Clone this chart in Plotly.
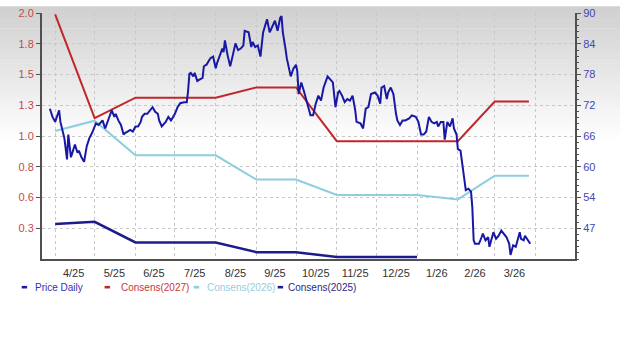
import plotly.graph_objects as go
import pandas as pd

# ---------------- data ----------------
base_date = "2025-04-01"
price_day_offsets = [-4, -2, 0, 1, 3, 4, 6, 7, 9, 10, 12, 13, 15, 17, 18, 20, 22, 24, 26, 28, 29, 31, 33, 36, 38, 40,
                     42, 43, 45, 46, 48, 50, 52, 53, 55, 57, 59, 61, 63, 65, 66, 68, 70, 72, 74, 76, 78, 79, 81, 83,
                     84, 86, 88, 89, 91, 93, 95, 98, 100, 101, 102, 103, 105, 106, 108, 110, 112, 113, 115, 117, 118,
                     120, 122, 123, 125, 127, 128, 129, 131, 133, 135, 137, 139, 141, 143, 144, 147, 149, 150, 152,
                     154, 156, 158, 160, 161, 163, 165, 167, 169, 171, 172, 173, 175, 176, 179, 181, 183, 184, 185,
                     187, 189, 191, 194, 196, 198, 200, 202, 204, 207, 209, 211, 213, 215, 216, 218, 220, 222, 224,
                     226, 228, 229, 232, 234, 236, 238, 240, 243, 245, 247, 248, 250, 252, 253, 255, 257, 259, 260,
                     262, 264, 266, 269, 271, 274, 276, 278, 280, 282, 284, 286, 288, 290, 291, 293, 295, 296, 298,
                     300, 302, 303, 305, 306, 308, 310, 311, 312, 314, 316, 317, 318, 319, 322, 324, 325, 327, 329,
                     330, 332, 333, 335, 337, 339, 341, 343, 345, 346, 348, 350, 352, 353, 354, 356, 357, 359, 361]
price_daily = [71.1, 69.5, 68.5, 69.2, 70.8, 68.5, 66.6, 65.3, 61.1, 66.0, 61.5, 62.4, 64.0, 62.4, 62.8, 61.5, 60.6,
               63.7, 65.3, 66.3, 66.9, 68.2, 67.9, 68.8, 67.2, 68.8, 70.1, 70.8, 69.5, 70.1, 68.8, 67.9, 66.0, 66.3,
               66.6, 66.9, 66.6, 67.6, 67.6, 68.5, 69.5, 70.1, 70.1, 70.8, 71.4, 70.5, 70.1, 68.8, 67.6, 68.2, 68.5,
               69.5, 68.8, 69.2, 70.1, 71.4, 72.2, 72.4, 72.4, 74.6, 78.0, 78.2, 77.5, 78.2, 76.6, 76.9, 77.2, 79.5,
               79.8, 80.7, 81.1, 81.4, 79.1, 80.1, 81.7, 83.0, 82.3, 84.6, 81.7, 79.5, 81.7, 84.0, 82.7, 83.0, 83.6,
               86.5, 86.2, 83.3, 84.3, 83.3, 83.6, 81.4, 86.2, 87.8, 88.8, 86.2, 87.5, 88.5, 86.5, 89.1, 89.4, 86.2,
               83.0, 81.1, 77.5, 79.0, 79.8, 78.5, 74.0, 76.3, 74.6, 72.7, 69.8, 69.8, 72.1, 73.7, 72.7, 75.3, 77.5,
               76.9, 76.3, 71.4, 74.3, 74.6, 73.7, 72.4, 73.0, 72.7, 73.7, 70.8, 68.5, 68.2, 67.2, 71.1, 71.4, 74.0,
               74.3, 73.7, 72.1, 75.3, 75.6, 73.0, 74.3, 75.3, 74.0, 70.1, 68.8, 67.9, 68.8, 68.8, 69.2, 69.8, 69.5,
               68.5, 66.0, 66.0, 66.6, 69.5, 68.5, 68.2, 68.5, 67.6, 68.5, 68.5, 65.0, 68.5, 67.6, 69.2, 67.2, 66.0,
               63.1, 62.8, 59.2, 56.6, 55.0, 55.3, 54.7, 51.5, 45.1, 44.4, 44.4, 45.7, 46.4, 45.1, 45.7, 43.8, 46.0,
               46.7, 45.4, 46.0, 47.0, 46.4, 45.7, 44.4, 42.2, 44.1, 43.8, 45.7, 46.7, 45.4, 45.1, 46.0, 45.1, 44.4]

consens_dates = ["2025-04-01", "2025-05-01", "2025-06-01", "2025-07-01", "2025-08-01", "2025-09-01",
                 "2025-10-01", "2025-11-01", "2025-12-01", "2026-01-01", "2026-02-01", "2026-03-01", "2026-03-27"]
consens_2027 = [1.99, 1.18, 1.34, 1.34, 1.34, 1.42, 1.42, 1.00, 1.00, 1.00, 1.00, 1.31, 1.31]
consens_2026 = [1.08, 1.16, 0.89, 0.89, 0.89, 0.70, 0.70, 0.58, 0.58, 0.58, 0.545, 0.73, 0.73]
consens_2025_dates = consens_dates[:10]
consens_2025 = [0.354, 0.370, 0.209, 0.209, 0.209, 0.133, 0.133, 0.095, 0.095, 0.095]

month_starts = ["2025-04-01", "2025-05-01", "2025-06-01", "2025-07-01", "2025-08-01", "2025-09-01",
                "2025-10-01", "2025-11-01", "2025-12-01", "2026-01-01", "2026-02-01", "2026-03-01", "2026-04-01"]
x_tick_dates = ["2025-04-15", "2025-05-16", "2025-06-15", "2025-07-16", "2025-08-16", "2025-09-15",
                "2025-10-16", "2025-11-15", "2025-12-16", "2026-01-16", "2026-02-14", "2026-03-16"]
x_tick_labels = ["4/25", "5/25", "6/25", "7/25", "8/25", "9/25", "10/25", "11/25", "12/25", "1/26", "2/26", "3/26"]

left_tick_vals = [0.32, 0.56, 0.80, 1.04, 1.28, 1.52, 1.76, 2.00]
left_tick_labels = ["0.3", "0.6", "0.8", "1.0", "1.3", "1.5", "1.8", "2.0"]
right_tick_labels = ["47", "54", "60", "66", "72", "78", "84", "90"]

# ---------------- figure ----------------
price_dates = pd.Timestamp(base_date) + pd.to_timedelta(price_day_offsets, unit="D")

W, H = 620, 349
ML, MR, MT, MB = 42, 45, 7, 90
PW, PH = W - ML - MR, H - MT - MB

left_range = [0.08, 2.0]
right_range = [41.4, 90.0]
right_step = (right_range[1] - right_range[0]) / 8
right_tick_vals = [right_range[0] + right_step * (k + 1) for k in range(8)]
right_minor_vals = [right_range[0] + right_step * k / 5 for k in range(0, 41)]
EPS = 1e-3

C_PRICE = "rgb(24,24,165)"
C_2027 = "rgb(192,38,42)"
C_2026 = "rgb(140,206,224)"
C_2025 = "rgb(28,28,140)"

fig = go.Figure()
fig.add_trace(go.Scatter(x=consens_dates, y=consens_2027, mode="lines", name="Consens(2027)",
                         line=dict(color=C_2027, width=2)))
fig.add_trace(go.Scatter(x=consens_dates, y=consens_2026, mode="lines", name="Consens(2026)",
                         line=dict(color=C_2026, width=2)))
fig.add_trace(go.Scatter(x=consens_2025_dates, y=consens_2025, mode="lines", name="Consens(2025)",
                         line=dict(color=C_2025, width=2.5)))
fig.add_trace(go.Scatter(x=price_dates, y=price_daily, mode="lines", name="Price Daily", yaxis="y2",
                         line=dict(color=C_PRICE, width=2)))


def px_to_paper_y(py):
    return (H - MB - py) / PH


def px_to_paper_x(px):
    return (px - ML) / PW


# gradient background
shapes = []
N = 30
g_top, g_bot = 208, 253
band_h = 135 / N
for i in range(N):
    g = int(round(g_top + (g_bot - g_top) * i / (N - 1)))
    shapes.append(dict(type="rect", xref="paper", yref="paper", layer="below",
                       x0=px_to_paper_x(0), x1=px_to_paper_x(W),
                       y0=px_to_paper_y(i * band_h + band_h + 0.5), y1=px_to_paper_y(i * band_h),
                       fillcolor=f"rgb({g},{g},{g})", line=dict(width=0)))

# legend built from annotations
legend_items = [("Price Daily", C_PRICE, "rgb(50,50,175)", 24.5, 33),
                ("Consens(2027)", C_2027, "rgb(200,55,55)", 107, 119),
                ("Consens(2026)", C_2026, "rgb(150,205,222)", 196, 205),
                ("Consens(2025)", C_2025, "rgb(40,40,135)", 280, 286)]
annotations = []
ly = px_to_paper_y(288)
for name, lc, tc, dash_x, text_x in legend_items:
    annotations.append(dict(text="▬", x=px_to_paper_x(dash_x), y=ly, xref="paper", yref="paper",
                            xanchor="center", yanchor="middle", showarrow=False,
                            font=dict(family="DejaVu Sans", size=7, color=lc)))
    annotations.append(dict(text=name, x=px_to_paper_x(text_x), y=ly, xref="paper", yref="paper",
                            xanchor="left", yanchor="middle", showarrow=False,
                            font=dict(family="Liberation Sans, Arial", size=10, color=tc)))

AX = "rgb(80,80,80)"
fig.update_layout(
    width=W, height=H,
    margin=dict(l=ML, r=MR, t=MT, b=MB),
    paper_bgcolor="white", plot_bgcolor="rgba(0,0,0,0)",
    showlegend=False,
    shapes=shapes, annotations=annotations,
    font=dict(family="Liberation Sans, Arial", size=11),
    xaxis=dict(type="date", range=["2025-03-22", "2026-05-01"],
               tickmode="array", tickvals=x_tick_dates, ticktext=x_tick_labels,
               showgrid=False, ticks="", ticklabelstandoff=3,
               tickfont=dict(color="rgb(50,50,50)", size=11),
               showline=True, linecolor=AX, linewidth=2,
               minor=dict(tickmode="array", tickvals=month_starts, showgrid=True,
                          gridcolor="rgb(200,200,200)", griddash="dot", gridwidth=1, ticks=""),
               zeroline=False),
    yaxis=dict(range=[left_range[0], left_range[1] + EPS], tickmode="array",
               tickvals=left_tick_vals, ticktext=left_tick_labels,
               showgrid=True, gridcolor="rgb(200,200,200)", griddash="dot", gridwidth=1,
               showline=True, linecolor=AX, linewidth=2, ticks="outside", ticklen=4, tickcolor=AX,
               tickfont=dict(color="rgb(195,75,75)", size=11), zeroline=False),
    yaxis2=dict(range=[right_range[0], right_range[1] + EPS * 25], overlaying="y", side="right", anchor="x",
                tickmode="array", tickvals=right_tick_vals, ticktext=right_tick_labels,
                showgrid=False, showline=True, linecolor=AX, linewidth=2,
                ticks="outside", ticklen=4, tickcolor=AX,
                minor=dict(tickmode="array", tickvals=right_minor_vals, ticks="outside",
                           ticklen=2, tickcolor=AX, showgrid=False),
                tickfont=dict(color="rgb(70,70,180)", size=11), zeroline=False),
)

fig.write_html("out.html")
